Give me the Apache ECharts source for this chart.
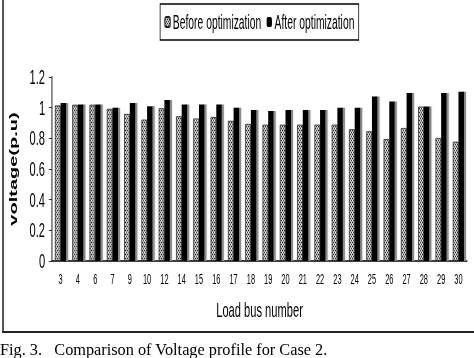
<!DOCTYPE html>
<html><head><meta charset="utf-8">
<script src="https://cdn.jsdelivr.net/npm/echarts@6/dist/echarts.min.js"></script>
<style>
html,body{margin:0;padding:0;background:#fff}
#wrap{width:474px;height:358px;overflow:hidden;position:relative}
#c{width:894px;height:358px;transform-origin:0 0;transform:scaleX(0.53020)}
</style>
</head><body><div id="wrap"><div id="c"></div></div>
<script>
const categories = ['3','4','6','7','9','10','12','14','15','16','17','18','19','20','21','22','23','24','25','26','27','28','29','30'];
const beforeOpt = [1.015,1.02,1.02,0.993,0.96,0.923,0.997,0.945,0.93,0.94,0.915,0.895,0.89,0.89,0.89,0.89,0.89,0.86,0.847,0.796,0.868,1.008,0.803,0.779];
const afterOpt  = [1.03,1.02,1.02,1.0,1.03,1.01,1.05,1.02,1.02,1.02,1.0,0.985,0.978,0.985,0.985,0.985,1.0,1.0,1.073,1.04,1.095,1.008,1.095,1.104];
const yTicks = [0,0.2,0.4,0.6,0.8,1,1.2];

// horizontal squash used by the original figure
const S = 474/894;

const pc = document.createElement('canvas');
pc.width = 4; pc.height = 4;
const g = pc.getContext('2d');
g.fillStyle = '#a8a8a8'; g.fillRect(0,0,4,4);
g.fillStyle = '#ffffff'; g.fillRect(0,0,2,1); g.fillRect(2,2,2,1);
g.fillStyle = '#1a1a1a'; g.fillRect(2,0,2,1); g.fillRect(0,2,2,1);
const patternURL = pc.toDataURL();

const SF = "'Liberation Sans',Arial,sans-serif";
const chart = echarts.init(document.getElementById('c'), null, {renderer:'svg', width:894, height:358});
chart.setOption({
  animation:false,
  backgroundColor:'#fff',
  graphic:[
    {type:'line', shape:{x1:5.7,y1:-5,x2:5.7,y2:332}, style:{stroke:'#555',lineWidth:3.8}},
    {type:'line', shape:{x1:4,y1:332,x2:900,y2:332}, style:{stroke:'#222',lineWidth:2}},
    {type:'text', x:0, y:341, scaleX:1/S, scaleY:1,
     style:{text:'Fig. 3.   Comparison of Voltage profile for Case 2.', font:"16.3px 'Liberation Serif','DejaVu Serif',serif", fill:'#000'}}
  ],
  legend:{
    left:302, top:4,
    borderColor:'#000', borderWidth:1.4, padding:[8,8,8,8],
    itemWidth:10, itemHeight:10, itemGap:10,
    textStyle:{fontFamily:SF, fontSize:19.5, color:'#000'},
    data:['Before optimization','After optimization']
  },
  grid:{left:98, right:13, top:77, bottom:97},
  xAxis:{
    type:'category', data:categories,
    name:'Load bus number', nameLocation:'middle', nameGap:39,
    nameTextStyle:{fontFamily:SF, fontSize:21, color:'#000'},
    axisLine:{lineStyle:{color:'#000',width:1.6}},
    axisTick:{show:false},
    axisLabel:{fontFamily:SF, fontSize:14, color:'#000', margin:11, interval:0}
  },
  yAxis:{
    type:'value', min:0, max:1.2, interval:0.2,
    name:'voltage(p.u)', nameLocation:'middle', nameGap:62,
    nameTextStyle:{fontFamily:SF, fontSize:20, fontWeight:'bold', color:'#000'},
    axisLine:{show:true, lineStyle:{color:'#333',width:2}},
    axisTick:{show:true, inside:false, length:6, lineStyle:{color:'#000',width:1}},
    splitLine:{show:false},
    axisLabel:{fontFamily:SF, fontSize:21, color:'#000', margin:13,
      formatter:v=>{const r=Math.round(v*10)/10; return yTicks.includes(r)?String(r):'';}}
  },
  series:[
    {name:'Before optimization', type:'bar', data:beforeOpt, barWidth:10.5, barGap:'0%',
     itemStyle:{color:{image:patternURL, repeat:'repeat'}, borderColor:'#222', borderWidth:1}},
    {name:'After optimization', type:'bar', data:afterOpt, barWidth:10.5,
     itemStyle:{color:'#000', shadowColor:'#8a8a8a', shadowOffsetX:4, shadowOffsetY:0, shadowBlur:0}}
  ]
});
</script></body></html>
